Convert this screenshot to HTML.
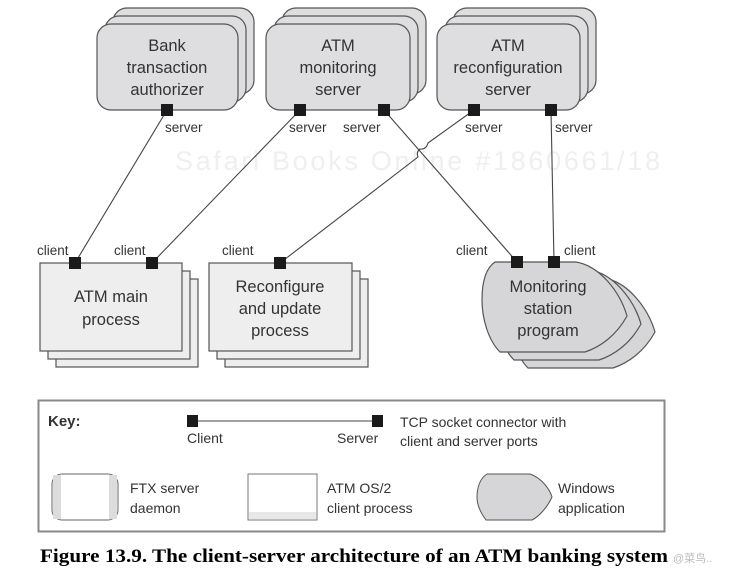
<!DOCTYPE html>
<html><head><meta charset="utf-8"><style>
html,body{margin:0;padding:0;background:#fff;}
svg text{font-family:"Liberation Sans",Arial,sans-serif;fill:#333;}
</style></head><body>
<svg width="736" height="572" viewBox="0 0 736 572" xmlns="http://www.w3.org/2000/svg">
<defs>
<path id="blob" d="M495,262 L576,262 C600,266 620,292 627,316 C616,336 600,347 585,352 L500,352 C488,340 482,318 482,300 C482,282 486,268 495,262 Z"/>
</defs>
<text x="175" y="170" font-size="27" textLength="485" style="fill:#efefef">Safari Books Online #1860661/18</text>

<!-- top boxes -->
<g fill="#dedee0" stroke="#555" stroke-width="1.2">
<rect x="113" y="8" width="141" height="86" rx="14"/>
<rect x="105" y="16" width="141" height="86" rx="14"/>
<rect x="97" y="24" width="141" height="86" rx="14"/>
<rect x="282" y="8" width="144" height="86" rx="14"/>
<rect x="274" y="16" width="144" height="86" rx="14"/>
<rect x="266" y="24" width="144" height="86" rx="14"/>
<rect x="453" y="8" width="143" height="86" rx="14"/>
<rect x="445" y="16" width="143" height="86" rx="14"/>
<rect x="437" y="24" width="143" height="86" rx="14"/>
</g>
<g font-size="16.5" text-anchor="middle">
<text x="167" y="51">Bank</text><text x="167" y="73">transaction</text><text x="167" y="95">authorizer</text>
<text x="338" y="51">ATM</text><text x="338" y="73">monitoring</text><text x="338" y="95">server</text>
<text x="508" y="51">ATM</text><text x="508" y="73">reconfiguration</text><text x="508" y="95">server</text>
</g>

<!-- bottom rects -->
<g fill="#eeeeee" stroke="#555" stroke-width="1.2">
<rect x="56" y="279" width="142" height="88"/>
<rect x="48" y="271" width="142" height="88"/>
<rect x="40" y="263" width="142" height="88"/>
<rect x="225" y="279" width="143" height="88"/>
<rect x="217" y="271" width="143" height="88"/>
<rect x="209" y="263" width="143" height="88"/>
</g>
<g fill="#d6d6d8" stroke="#555" stroke-width="1.2">
<use href="#blob" transform="translate(28,16)"/>
<use href="#blob" transform="translate(14,8)"/>
<use href="#blob"/>
</g>
<g font-size="16.5" text-anchor="middle">
<text x="111" y="302">ATM main</text><text x="111" y="325">process</text>
<text x="280" y="292">Reconfigure</text><text x="280" y="314">and update</text><text x="280" y="336">process</text>
<text x="548" y="292">Monitoring</text><text x="548" y="314">station</text><text x="548" y="336">program</text>
</g>

<!-- connectors -->
<g stroke="#444" stroke-width="1.1" fill="none">
<line x1="167" y1="110" x2="75" y2="263"/>
<line x1="300" y1="110" x2="152" y2="263"/>
<line x1="384" y1="110" x2="517" y2="262"/>
<path d="M474,110 L428,143 Q426,150 420,149 Q416,152 418,157 L280,263"/>
<line x1="551" y1="110" x2="554" y2="262"/>
</g>
<g fill="#1a1a1a">
<rect x="161" y="104" width="12" height="12"/>
<rect x="294" y="104" width="12" height="12"/>
<rect x="378" y="104" width="12" height="12"/>
<rect x="468" y="104" width="12" height="12"/>
<rect x="545" y="104" width="12" height="12"/>
<rect x="69" y="257" width="12" height="12"/>
<rect x="146" y="257" width="12" height="12"/>
<rect x="274" y="257" width="12" height="12"/>
<rect x="511" y="256" width="12" height="12"/>
<rect x="548" y="256" width="12" height="12"/>
</g>
<g font-size="13.5">
<text x="165" y="132">server</text>
<text x="289" y="132">server</text><text x="343" y="132">server</text>
<text x="465" y="132">server</text><text x="555" y="132">server</text>
<text x="37" y="255">client</text><text x="114" y="255">client</text>
<text x="222" y="255">client</text>
<text x="456" y="255">client</text><text x="564" y="255">client</text>
</g>

<!-- key -->
<rect x="38.5" y="400.5" width="626" height="131" fill="#fff" stroke="#888" stroke-width="2"/>
<text x="48" y="426" font-size="15" font-weight="bold">Key:</text>
<line x1="193" y1="421" x2="377" y2="421" stroke="#444" stroke-width="1"/>
<rect x="187" y="415" width="11" height="12" fill="#1a1a1a"/>
<rect x="372" y="415" width="11" height="12" fill="#1a1a1a"/>
<g font-size="14">
<text x="187" y="443">Client</text><text x="337" y="443">Server</text>
<text x="400" y="427">TCP socket connector with</text>
<text x="400" y="446">client and server ports</text>
<text x="130" y="493">FTX server</text><text x="130" y="513">daemon</text>
<text x="327" y="493">ATM OS/2</text><text x="327" y="513">client process</text>
<text x="558" y="493">Windows</text><text x="558" y="513">application</text>
</g>
<rect x="52" y="474" width="66" height="46" rx="10" fill="#fff" stroke="#666"/>
<rect x="53" y="475" width="8" height="44" fill="#dcdcdc"/>
<rect x="109" y="475" width="8" height="44" fill="#dcdcdc"/>
<rect x="248" y="474" width="69" height="46" fill="#fff" stroke="#777"/>
<rect x="249" y="512" width="67" height="7" fill="#e8e8e8"/>
<path d="M487,474 L530,474 C542,478 550,490 552,497 C548,506 540,516 532,520 L486,520 C480,512 477,504 477,497 C477,488 480,478 487,474 Z" fill="#d6d6d8" stroke="#555"/>

<text x="40" y="562" font-size="18.5" font-weight="bold" textLength="628" lengthAdjust="spacingAndGlyphs" style="fill:#000;font-family:'Liberation Serif',serif">Figure 13.9. The client-server architecture of an ATM banking system</text>
<text x="673" y="562" font-size="11" style="fill:#bbb">@菜鸟..</text>
</svg>
</body></html>
